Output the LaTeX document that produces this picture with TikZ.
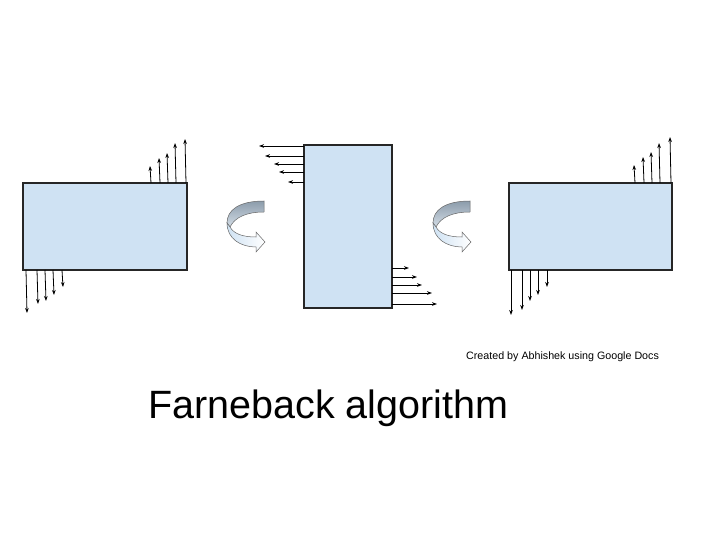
\documentclass[tikz,border=0pt]{standalone}
\usepackage{fontspec}
\setmainfont{Liberation Sans}
\usetikzlibrary{arrows.meta,calc}

\begin{document}
\begin{tikzpicture}[
  x=1pt,y=-1pt,
  frame/.style={draw=black!85,line width=1.1pt,fill=boxblue,inner sep=0pt,outer sep=0pt},
  flow/.style={-{Stealth[length=5pt,width=3.6pt]},line width=0.8pt},
  ribbonback/.style={draw=black!60,line width=0.5pt,top color=ribbongrey,bottom color=ribbonlight},
  ribbonfront/.style={draw=black!60,line width=0.5pt,left color=ribbonfill,right color=white},
  every node/.style={font=\normalsize}
]
\definecolor{boxblue}{HTML}{CFE2F3}
\definecolor{ribbongrey}{HTML}{8C9CAB}
\definecolor{ribbonlight}{HTML}{D3DDE6}
\definecolor{ribbonfill}{HTML}{CFE2F3}
\useasboundingbox (0,0) rectangle (720,540);

\node[frame,minimum width=164,minimum height=87] (first) at (105,226.5) {};
\node[frame,minimum width=88,minimum height=163] (middle) at (348,226.5) {};
\node[frame,minimum width=163,minimum height=87] (last) at (590.5,226.5) {};

\foreach \dx/\len in {128/17,137/25,145/30,153/40,163/44}
  \draw[flow] ([xshift=\dx]first.north west) -- ++(-1,-\len);
\foreach \dx/\len in {3/43,14/34,22/31,30/25,39/17}
  \draw[flow] ([xshift=\dx]first.south west) -- ++(1,\len);

\foreach \dy/\len in {1/45,11/39,19/30,27/25,37/16}
  \draw[flow] ([yshift=-\dy]middle.north west) -- ++(-\len,0);
\foreach \dy/\len in {123/17,132/25,140/30,148/40,159/45}
  \draw[flow] ([yshift=-\dy]middle.north east) -- ++(\len,0);

\foreach \dx/\len in {126/18,135/26,143/31,151/40,162/46}
  \draw[flow] ([xshift=\dx]last.north west) -- ++(-1,-\len);
\foreach \dx/\len in {2/45,13/40,21/31,29/25,38/17}
  \draw[flow] ([xshift=\dx]last.south west) -- ++(0,\len);

\foreach \ox in {227,433}
{
  \begin{scope}[shift={(\ox,201)}]
    \path[ribbonback] (37,0) .. controls (12,0) and (0,9) .. (0,22)
      -- (3,26) .. controls (8,16) and (20,11) .. (37,11) -- cycle;
    \path[ribbonfront] (0,22) .. controls (0,38) and (14,46) .. (29,46)
      -- (29,51) -- (38,41) -- (29,31) -- (29,36)
      .. controls (16,36) and (7,33) .. (3,26) -- cycle;
  \end{scope}
}

\node[anchor=base west,inner sep=0pt,font=\fontsize{10.7}{13}\selectfont] (credit) at (466,359)
  {Created by Abhishek using Google Docs};
\node[anchor=base west,inner sep=0pt,font=\fontsize{39.5}{47}\selectfont] (title) at (148,418)
  {Farneback algorithm};
\end{tikzpicture}
\end{document}
